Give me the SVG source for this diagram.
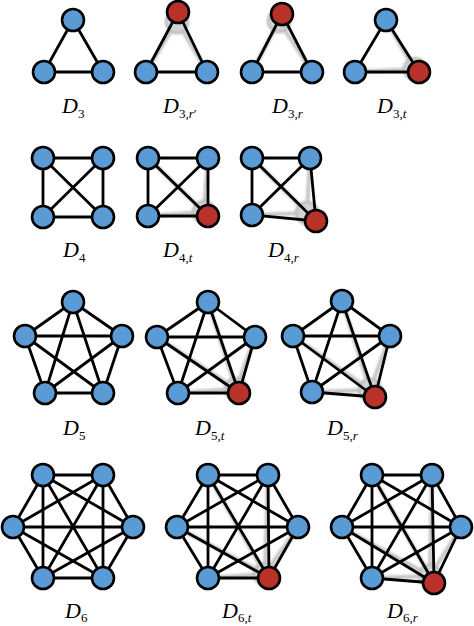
<svg xmlns="http://www.w3.org/2000/svg" width="474" height="626" viewBox="0 0 474 626">
<style>
.e line{stroke:#000;stroke-width:2.8;stroke-linecap:round}
.g line{stroke:#c4c4c4;stroke-width:4;stroke-linecap:round}
.n{fill:#5b9bd5;stroke:#000;stroke-width:2.6}
.r{fill:#b8322a;stroke:#000;stroke-width:2.6}
.gn{fill:#d4d4d4;stroke:#bdbdbd;stroke-width:2.6}
.lab{font-family:"Liberation Serif","Times New Roman",serif;font-style:italic;font-size:22px;fill:#000}
.sub{font-size:13px;font-style:normal}
.it{font-style:italic}
</style>
<defs><filter id="blur" x="-20%" y="-20%" width="140%" height="140%"><feGaussianBlur stdDeviation="0.8"/></filter></defs>
<rect width="474" height="626" fill="#fff"/>

<!-- D3 -->
<g id="D3">
<g class="e"><line x1="73" y1="20" x2="44" y2="72"/><line x1="73" y1="20" x2="103" y2="72"/><line x1="44" y1="72" x2="103" y2="72"/></g>
<g id="D3-a"><circle class="n" cx="73" cy="20" r="11"/></g>
<g id="D3-b"><circle class="n" cx="44" cy="72" r="11"/></g>
<g id="D3-c"><circle class="n" cx="103" cy="72" r="11"/></g>
<text class="lab" x="62" y="113">D<tspan class="sub" dy="5">3</tspan></text>
</g>

<!-- D3,r' -->
<g id="D3rp">
<g class="g" filter="url(#blur)"><line x1="177" y1="21" x2="146" y2="72"/><line x1="177" y1="21" x2="207" y2="72"/></g>
<g id="D3rp-ghost" filter="url(#blur)"><circle class="gn" cx="177" cy="22" r="11"/></g>
<g class="e"><line x1="178" y1="12" x2="146" y2="72"/><line x1="178" y1="12" x2="207" y2="72"/><line x1="146" y1="72" x2="207" y2="72"/></g>
<g id="D3rp-a"><circle class="r" cx="178" cy="12" r="11"/></g>
<g id="D3rp-b"><circle class="n" cx="146" cy="72" r="11"/></g>
<g id="D3rp-c"><circle class="n" cx="207" cy="72" r="11"/></g>
<text class="lab" x="163" y="113">D<tspan class="sub" dy="5">3,<tspan class="it">r</tspan>′</tspan></text>
</g>

<!-- D3,r -->
<g id="D3r">
<g class="g" filter="url(#blur)"><line x1="279" y1="21" x2="252" y2="72"/><line x1="279" y1="21" x2="312" y2="72"/></g>
<g id="D3r-ghost" filter="url(#blur)"><circle class="gn" cx="279" cy="21" r="11"/></g>
<g class="e"><line x1="282" y1="14" x2="252" y2="72"/><line x1="282" y1="14" x2="312" y2="72"/><line x1="252" y1="72" x2="312" y2="72"/></g>
<g id="D3r-a"><circle class="r" cx="282" cy="14" r="11"/></g>
<g id="D3r-b"><circle class="n" cx="252" cy="72" r="11"/></g>
<g id="D3r-c"><circle class="n" cx="312" cy="72" r="11"/></g>
<text class="lab" x="272" y="113">D<tspan class="sub" dy="5">3,<tspan class="it">r</tspan></tspan></text>
</g>

<!-- D3,t -->
<g id="D3t">
<g class="g" filter="url(#blur)"><line x1="414" y1="69" x2="386" y2="20"/><line x1="414" y1="69" x2="355" y2="72"/></g>
<g id="D3t-ghost" filter="url(#blur)"><circle class="gn" cx="415" cy="69" r="11"/></g>
<g class="e"><line x1="386" y1="20" x2="355" y2="72"/><line x1="386" y1="20" x2="419" y2="72"/><line x1="355" y1="72" x2="419" y2="72"/></g>
<g id="D3t-a"><circle class="n" cx="386" cy="20" r="11"/></g>
<g id="D3t-b"><circle class="n" cx="355" cy="72" r="11"/></g>
<g id="D3t-c"><circle class="r" cx="419" cy="72" r="11"/></g>
<text class="lab" x="377" y="113">D<tspan class="sub" dy="5">3,<tspan class="it">t</tspan></tspan></text>
</g>

<!-- D4 -->
<g id="D4">
<g class="e"><line x1="43" y1="158" x2="103" y2="158"/><line x1="43" y1="158" x2="43" y2="217"/><line x1="43" y1="158" x2="103" y2="217"/><line x1="103" y1="158" x2="43" y2="217"/><line x1="103" y1="158" x2="103" y2="217"/><line x1="43" y1="217" x2="103" y2="217"/></g>
<g id="D4-a"><circle class="n" cx="43" cy="158" r="11"/></g>
<g id="D4-b"><circle class="n" cx="103" cy="158" r="11"/></g>
<g id="D4-c"><circle class="n" cx="43" cy="217" r="11"/></g>
<g id="D4-d"><circle class="n" cx="103" cy="217" r="11"/></g>
<text class="lab" x="63" y="257">D<tspan class="sub" dy="5">4</tspan></text>
</g>

<!-- D4,t -->
<g id="D4t">
<g class="g" filter="url(#blur)"><line x1="204" y1="212" x2="148" y2="158"/><line x1="204" y1="212" x2="208" y2="158"/><line x1="204" y1="212" x2="148" y2="216"/></g>
<g id="D4t-ghost" filter="url(#blur)"><circle class="gn" cx="204" cy="212" r="11"/></g>
<g class="e"><line x1="148" y1="158" x2="208" y2="158"/><line x1="148" y1="158" x2="148" y2="216"/><line x1="148" y1="158" x2="208" y2="216"/><line x1="208" y1="158" x2="148" y2="216"/><line x1="208" y1="158" x2="208" y2="216"/><line x1="148" y1="216" x2="208" y2="216"/></g>
<g id="D4t-a"><circle class="n" cx="148" cy="158" r="11"/></g>
<g id="D4t-b"><circle class="n" cx="208" cy="158" r="11"/></g>
<g id="D4t-c"><circle class="n" cx="148" cy="216" r="11"/></g>
<g id="D4t-d"><circle class="r" cx="208" cy="216" r="11"/></g>
<text class="lab" x="163" y="257">D<tspan class="sub" dy="5">4,<tspan class="it">t</tspan></tspan></text>
</g>

<!-- D4,r -->
<g id="D4r">
<g class="g" filter="url(#blur)"><line x1="307" y1="213" x2="252" y2="158"/><line x1="307" y1="213" x2="310" y2="158"/><line x1="307" y1="213" x2="252" y2="215"/></g>
<g id="D4r-ghost" filter="url(#blur)"><circle class="gn" cx="307" cy="213" r="11"/></g>
<g class="e"><line x1="252" y1="158" x2="310" y2="158"/><line x1="252" y1="158" x2="252" y2="215"/><line x1="252" y1="158" x2="316" y2="221"/><line x1="310" y1="158" x2="252" y2="215"/><line x1="310" y1="158" x2="316" y2="221"/><line x1="252" y1="215" x2="316" y2="221"/></g>
<g id="D4r-a"><circle class="n" cx="252" cy="158" r="11"/></g>
<g id="D4r-b"><circle class="n" cx="310" cy="158" r="11"/></g>
<g id="D4r-c"><circle class="n" cx="252" cy="215" r="11"/></g>
<g id="D4r-d"><circle class="r" cx="316" cy="221" r="11"/></g>
<text class="lab" x="268" y="257">D<tspan class="sub" dy="5">4,<tspan class="it">r</tspan></tspan></text>
</g>

<!-- D5 -->
<g id="D5">
<g class="e"><line x1="73" y1="302" x2="25" y2="336"/><line x1="73" y1="302" x2="122" y2="336"/><line x1="73" y1="302" x2="45" y2="393"/><line x1="73" y1="302" x2="103" y2="393"/><line x1="25" y1="336" x2="122" y2="336"/><line x1="25" y1="336" x2="45" y2="393"/><line x1="25" y1="336" x2="103" y2="393"/><line x1="122" y1="336" x2="45" y2="393"/><line x1="122" y1="336" x2="103" y2="393"/><line x1="45" y1="393" x2="103" y2="393"/></g>
<g id="D5-a"><circle class="n" cx="73" cy="302" r="11"/></g>
<g id="D5-b"><circle class="n" cx="25" cy="336" r="11"/></g>
<g id="D5-c"><circle class="n" cx="122" cy="336" r="11"/></g>
<g id="D5-d"><circle class="n" cx="45" cy="393" r="11"/></g>
<g id="D5-e"><circle class="n" cx="103" cy="393" r="11"/></g>
<text class="lab" x="63" y="435">D<tspan class="sub" dy="5">5</tspan></text>
</g>

<!-- D5,t -->
<g id="D5t">
<g class="g" filter="url(#blur)"><line x1="236" y1="389" x2="208" y2="302"/><line x1="236" y1="389" x2="157" y2="337"/><line x1="236" y1="389" x2="255" y2="337"/><line x1="236" y1="389" x2="178" y2="393"/></g>
<g id="D5t-ghost" filter="url(#blur)"><circle class="gn" cx="236" cy="389" r="11"/></g>
<g class="e"><line x1="208" y1="302" x2="157" y2="337"/><line x1="208" y1="302" x2="255" y2="337"/><line x1="208" y1="302" x2="178" y2="393"/><line x1="208" y1="302" x2="239" y2="393"/><line x1="157" y1="337" x2="255" y2="337"/><line x1="157" y1="337" x2="178" y2="393"/><line x1="157" y1="337" x2="239" y2="393"/><line x1="255" y1="337" x2="178" y2="393"/><line x1="255" y1="337" x2="239" y2="393"/><line x1="178" y1="393" x2="239" y2="393"/></g>
<g id="D5t-a"><circle class="n" cx="208" cy="302" r="11"/></g>
<g id="D5t-b"><circle class="n" cx="157" cy="337" r="11"/></g>
<g id="D5t-c"><circle class="n" cx="255" cy="337" r="11"/></g>
<g id="D5t-d"><circle class="n" cx="178" cy="393" r="11"/></g>
<g id="D5t-e"><circle class="r" cx="239" cy="393" r="11"/></g>
<text class="lab" x="195" y="435">D<tspan class="sub" dy="5">5,<tspan class="it">t</tspan></tspan></text>
</g>

<!-- D5,r -->
<g id="D5r">
<g class="g" filter="url(#blur)"><line x1="370" y1="390" x2="342" y2="301"/><line x1="370" y1="390" x2="293" y2="336"/><line x1="370" y1="390" x2="390" y2="336"/><line x1="370" y1="390" x2="312" y2="392"/></g>
<g id="D5r-ghost" filter="url(#blur)"><circle class="gn" cx="370" cy="390" r="11"/></g>
<g class="e"><line x1="342" y1="301" x2="293" y2="336"/><line x1="342" y1="301" x2="390" y2="336"/><line x1="342" y1="301" x2="312" y2="392"/><line x1="342" y1="301" x2="375" y2="397"/><line x1="293" y1="336" x2="390" y2="336"/><line x1="293" y1="336" x2="312" y2="392"/><line x1="293" y1="336" x2="375" y2="397"/><line x1="390" y1="336" x2="312" y2="392"/><line x1="390" y1="336" x2="375" y2="397"/><line x1="312" y1="392" x2="375" y2="397"/></g>
<g id="D5r-a"><circle class="n" cx="342" cy="301" r="11"/></g>
<g id="D5r-b"><circle class="n" cx="293" cy="336" r="11"/></g>
<g id="D5r-c"><circle class="n" cx="390" cy="336" r="11"/></g>
<g id="D5r-d"><circle class="n" cx="312" cy="392" r="11"/></g>
<g id="D5r-e"><circle class="r" cx="375" cy="397" r="11"/></g>
<text class="lab" x="327" y="435">D<tspan class="sub" dy="5">5,<tspan class="it">r</tspan></tspan></text>
</g>

<!-- D6 -->
<g id="D6">
<g class="e">
<line x1="43" y1="475" x2="103" y2="475"/><line x1="43" y1="475" x2="13" y2="527"/><line x1="43" y1="475" x2="133" y2="527"/><line x1="43" y1="475" x2="43" y2="578"/><line x1="43" y1="475" x2="103" y2="578"/>
<line x1="103" y1="475" x2="13" y2="527"/><line x1="103" y1="475" x2="133" y2="527"/><line x1="103" y1="475" x2="43" y2="578"/><line x1="103" y1="475" x2="103" y2="578"/>
<line x1="13" y1="527" x2="133" y2="527"/><line x1="13" y1="527" x2="43" y2="578"/><line x1="13" y1="527" x2="103" y2="578"/>
<line x1="133" y1="527" x2="43" y2="578"/><line x1="133" y1="527" x2="103" y2="578"/><line x1="43" y1="578" x2="103" y2="578"/>
</g>
<g id="D6-a"><circle class="n" cx="43" cy="475" r="11"/></g>
<g id="D6-b"><circle class="n" cx="103" cy="475" r="11"/></g>
<g id="D6-c"><circle class="n" cx="13" cy="527" r="11"/></g>
<g id="D6-d"><circle class="n" cx="133" cy="527" r="11"/></g>
<g id="D6-e"><circle class="n" cx="43" cy="578" r="11"/></g>
<g id="D6-f"><circle class="n" cx="103" cy="578" r="11"/></g>
<text class="lab" x="65" y="618">D<tspan class="sub" dy="4">6</tspan></text>
</g>

<!-- D6,t -->
<g id="D6t">
<g class="g" filter="url(#blur)"><line x1="265" y1="574" x2="208" y2="475"/><line x1="265" y1="574" x2="268" y2="475"/><line x1="265" y1="574" x2="177" y2="527"/><line x1="265" y1="574" x2="298" y2="527"/><line x1="265" y1="574" x2="208" y2="578"/></g>
<g id="D6t-ghost" filter="url(#blur)"><circle class="gn" cx="265" cy="574" r="11"/></g>
<g class="e">
<line x1="208" y1="475" x2="268" y2="475"/><line x1="208" y1="475" x2="177" y2="527"/><line x1="208" y1="475" x2="298" y2="527"/><line x1="208" y1="475" x2="208" y2="578"/><line x1="208" y1="475" x2="269" y2="578"/>
<line x1="268" y1="475" x2="177" y2="527"/><line x1="268" y1="475" x2="298" y2="527"/><line x1="268" y1="475" x2="208" y2="578"/><line x1="268" y1="475" x2="269" y2="578"/>
<line x1="177" y1="527" x2="298" y2="527"/><line x1="177" y1="527" x2="208" y2="578"/><line x1="177" y1="527" x2="269" y2="578"/>
<line x1="298" y1="527" x2="208" y2="578"/><line x1="298" y1="527" x2="269" y2="578"/><line x1="208" y1="578" x2="269" y2="578"/>
</g>
<g id="D6t-a"><circle class="n" cx="208" cy="475" r="11"/></g>
<g id="D6t-b"><circle class="n" cx="268" cy="475" r="11"/></g>
<g id="D6t-c"><circle class="n" cx="177" cy="527" r="11"/></g>
<g id="D6t-d"><circle class="n" cx="298" cy="527" r="11"/></g>
<g id="D6t-e"><circle class="n" cx="208" cy="578" r="11"/></g>
<g id="D6t-f"><circle class="r" cx="269" cy="578" r="11"/></g>
<text class="lab" x="222" y="618">D<tspan class="sub" dy="4">6,<tspan class="it">t</tspan></tspan></text>
</g>

<!-- D6,r -->
<g id="D6r">
<g class="g" filter="url(#blur)"><line x1="430" y1="576" x2="372" y2="475"/><line x1="430" y1="576" x2="432" y2="475"/><line x1="430" y1="576" x2="342" y2="527"/><line x1="430" y1="576" x2="461" y2="527"/><line x1="430" y1="576" x2="372" y2="578"/></g>
<g id="D6r-ghost" filter="url(#blur)"><circle class="gn" cx="430" cy="576" r="11"/></g>
<g class="e">
<line x1="372" y1="475" x2="432" y2="475"/><line x1="372" y1="475" x2="342" y2="527"/><line x1="372" y1="475" x2="461" y2="527"/><line x1="372" y1="475" x2="372" y2="578"/><line x1="372" y1="475" x2="434" y2="583"/>
<line x1="432" y1="475" x2="342" y2="527"/><line x1="432" y1="475" x2="461" y2="527"/><line x1="432" y1="475" x2="372" y2="578"/><line x1="432" y1="475" x2="434" y2="583"/>
<line x1="342" y1="527" x2="461" y2="527"/><line x1="342" y1="527" x2="372" y2="578"/><line x1="342" y1="527" x2="434" y2="583"/>
<line x1="461" y1="527" x2="372" y2="578"/><line x1="461" y1="527" x2="434" y2="583"/><line x1="372" y1="578" x2="434" y2="583"/>
</g>
<g id="D6r-a"><circle class="n" cx="372" cy="475" r="11"/></g>
<g id="D6r-b"><circle class="n" cx="432" cy="475" r="11"/></g>
<g id="D6r-c"><circle class="n" cx="342" cy="527" r="11"/></g>
<g id="D6r-d"><circle class="n" cx="461" cy="527" r="11"/></g>
<g id="D6r-e"><circle class="n" cx="372" cy="578" r="11"/></g>
<g id="D6r-f"><circle class="r" cx="434" cy="583" r="11"/></g>
<text class="lab" x="387" y="618">D<tspan class="sub" dy="4">6,<tspan class="it">r</tspan></tspan></text>
</g>
</svg>
